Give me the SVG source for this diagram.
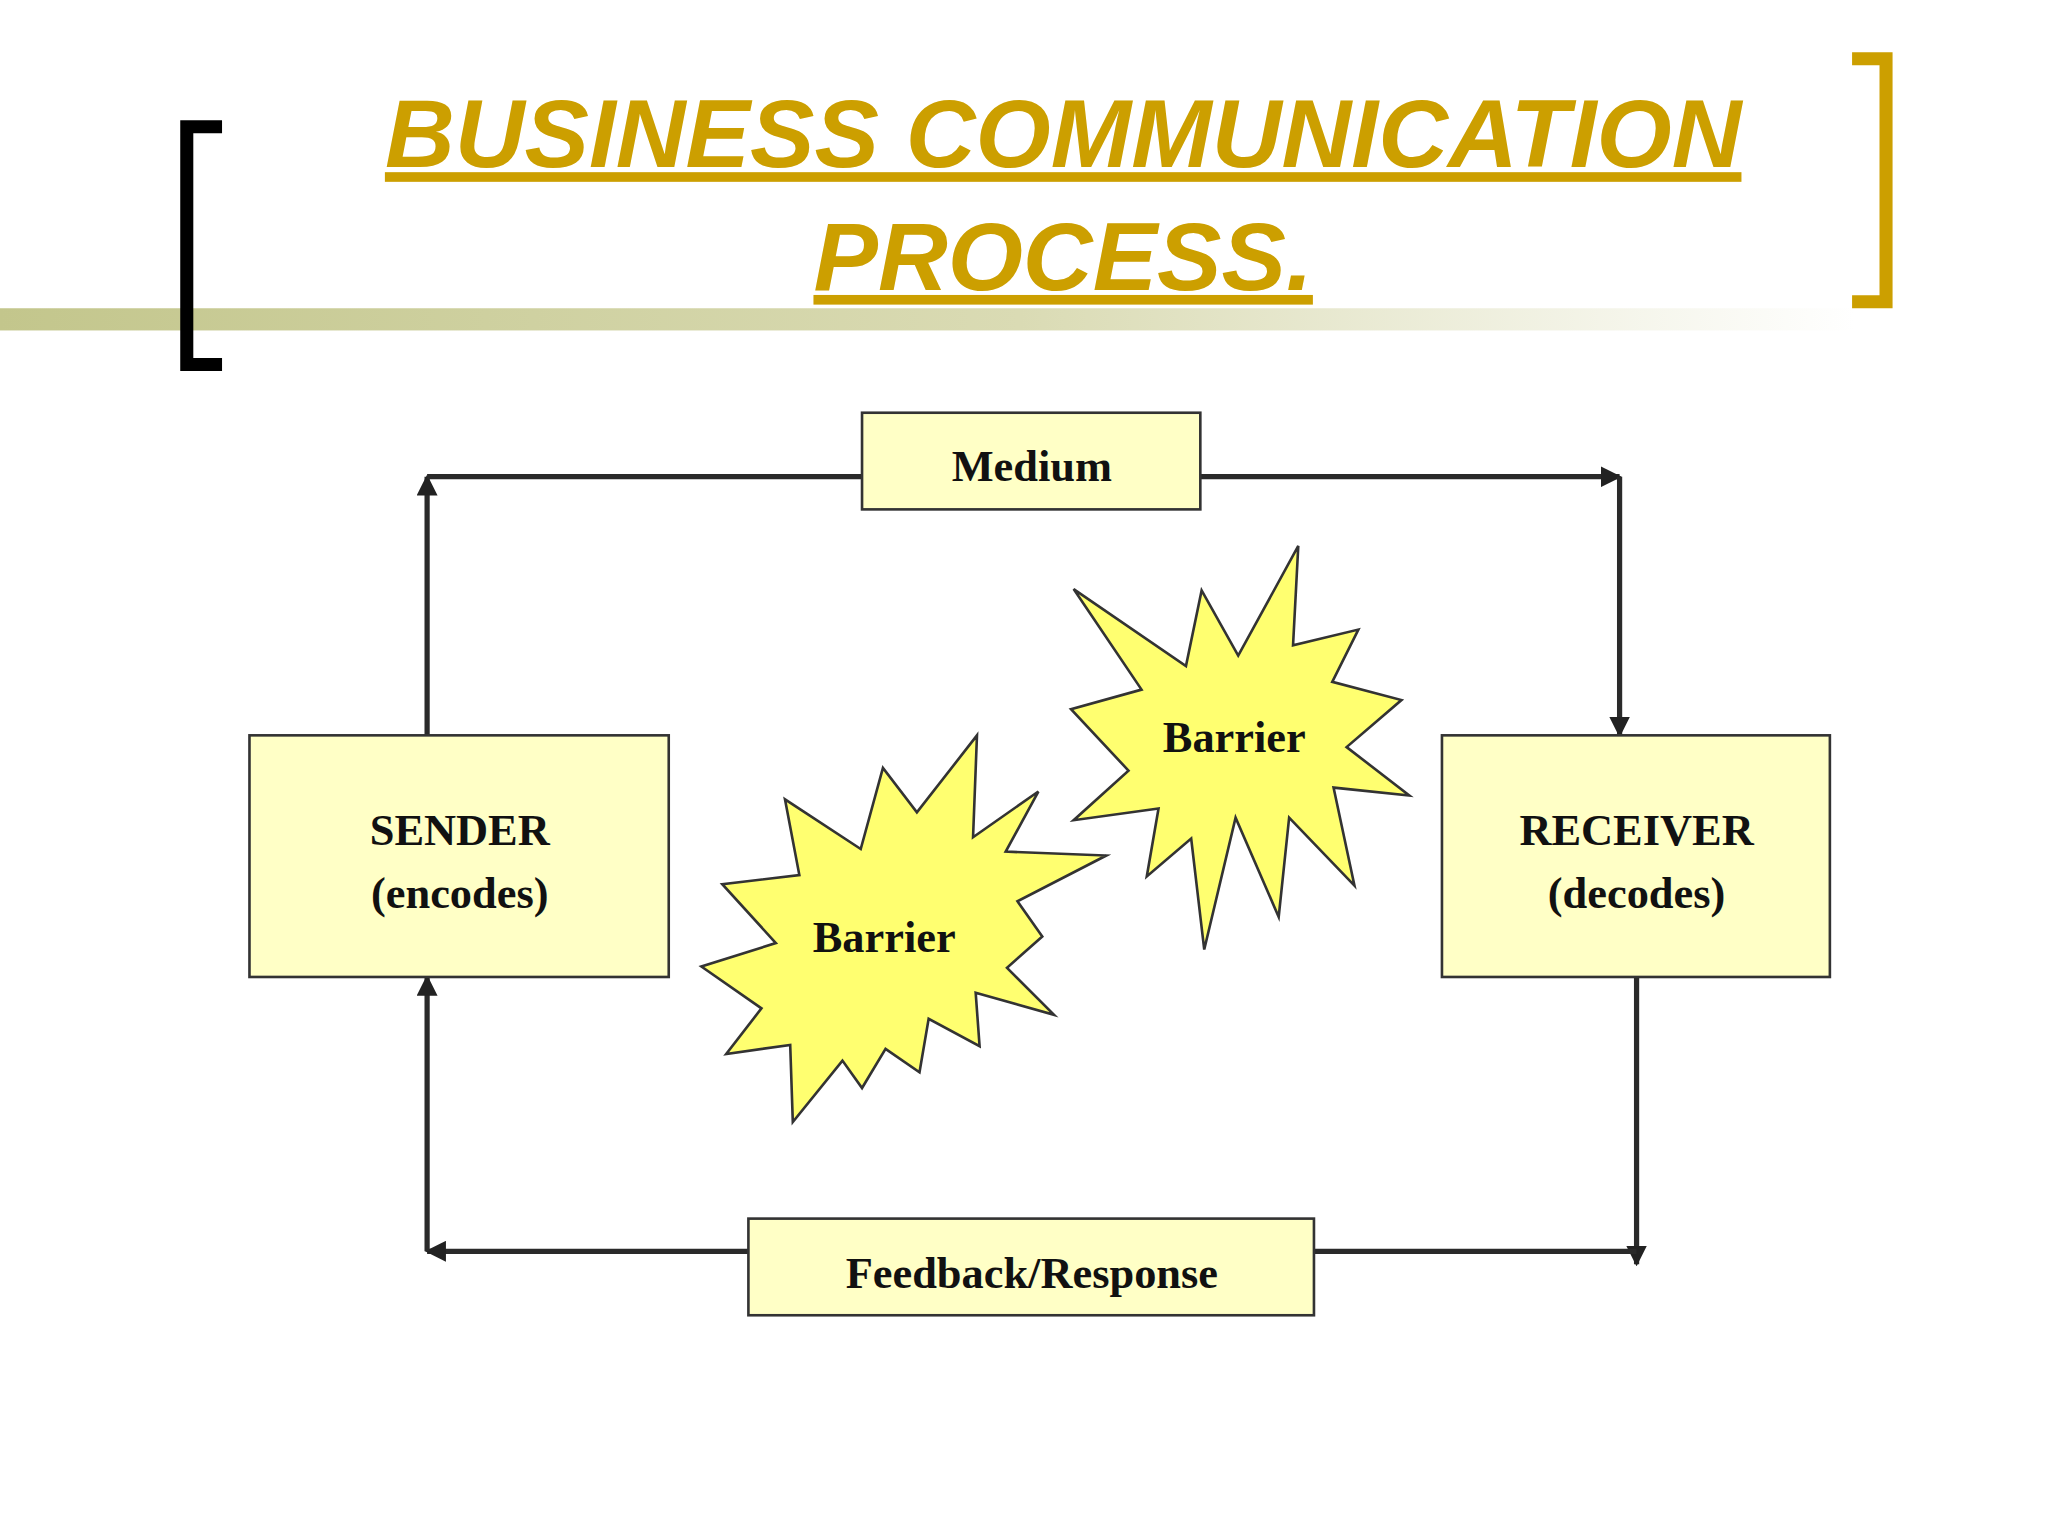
<svg xmlns="http://www.w3.org/2000/svg" width="2048" height="1536" viewBox="0 0 2048 1536">
<defs>
<linearGradient id="bar" x1="0" x2="1" y1="0" y2="0">
<stop offset="0" stop-color="#C3C68C"/><stop offset="0.55" stop-color="#DADBB4"/><stop offset="1" stop-color="#FFFFFF"/>
</linearGradient>
<marker id="ah" viewBox="0 0 10 10" refX="9" refY="5" markerWidth="4" markerHeight="4" orient="auto"><path d="M0,0 L10,5 L0,10 z" fill="#222"/></marker>
<style>
.box{fill:#FFFFC6;stroke:#333;stroke-width:2}
.star{fill:#FFFF70;stroke:#333;stroke-width:2}
.lbl{font-family:"Liberation Serif",serif;font-weight:bold;font-size:34px;fill:#111;text-anchor:middle}
.ttl{font-family:"Liberation Sans",Arial,sans-serif;font-weight:bold;font-style:italic;font-size:74px;fill:#CC9F00;text-anchor:middle;text-decoration:underline}
.ln{fill:none;stroke:#2a2a2a;stroke-width:4}
</style>
</defs>
<rect width="2048" height="1536" fill="#FFFFFF"/>
<g transform="scale(1.30612)">
<rect x="0" y="236" width="1420" height="17" fill="url(#bar)"/>
<path d="M170,97 H143 V279 H170" fill="none" stroke="#000" stroke-width="10"/>
<path d="M1418,45 H1444 V231 H1418" fill="none" stroke="#CC9F00" stroke-width="10"/>
<text class="ttl" x="814" y="128">BUSINESS COMMUNICATION</text>
<text class="ttl" x="814" y="222">PROCESS.</text>
<g id="connectors">
<path class="ln" d="M327,563 V365" marker-end="url(#ah)"/>
<path class="ln" d="M327,365 H660"/>
<path class="ln" d="M919,365 H1240" marker-end="url(#ah)"/>
<path class="ln" d="M1240,365 V563" marker-end="url(#ah)"/>
<path class="ln" d="M1253,748 V968" marker-end="url(#ah)"/>
<path class="ln" d="M1253,958 H1006"/>
<path class="ln" d="M573,958 H327" marker-end="url(#ah)"/>
<path class="ln" d="M327,958 V748" marker-end="url(#ah)"/>
</g>
<g id="medium"><rect class="box" x="660" y="316" width="259" height="74"/><text class="lbl" x="790" y="368">Medium</text></g>
<g id="sender"><rect class="box" x="191" y="563" width="321" height="185"/><text class="lbl" x="352" y="647">SENDER</text><text class="lbl" x="352" y="695">(encodes)</text></g>
<g id="receiver"><rect class="box" x="1104" y="563" width="297" height="185"/><text class="lbl" x="1253" y="647">RECEIVER</text><text class="lbl" x="1253" y="695">(decodes)</text></g>
<g id="feedback"><rect class="box" x="573" y="933" width="433" height="74"/><text class="lbl" x="790" y="986">Feedback/Response</text></g>
<g id="barrier1"><polygon class="star" points="822,451 908,510 920,452 948,502 994,418 990,494 1040,482 1020,522 1073,536 1031,572 1079,609 1021,603 1037,678 987,626 979,702 946,626 922,727 912,642 878,671 887,619 822,628 864,590 820,543 874,528"/><text class="lbl" x="945" y="576">Barrier</text></g>
<g id="barrier2"><polygon class="star" points="748,563 745,641 795,606 770,652 847,655 779,690 798,717 771,741 807,777 747,760 750,801 711,780 704,821 678,803 660,833 645,812 607,859 605,800 556,807 583,772 537,740 594,722 553,677 612,670 601,612 659,650 676,588 702,622"/><text class="lbl" x="677" y="729">Barrier</text></g>
</g>
</svg>
